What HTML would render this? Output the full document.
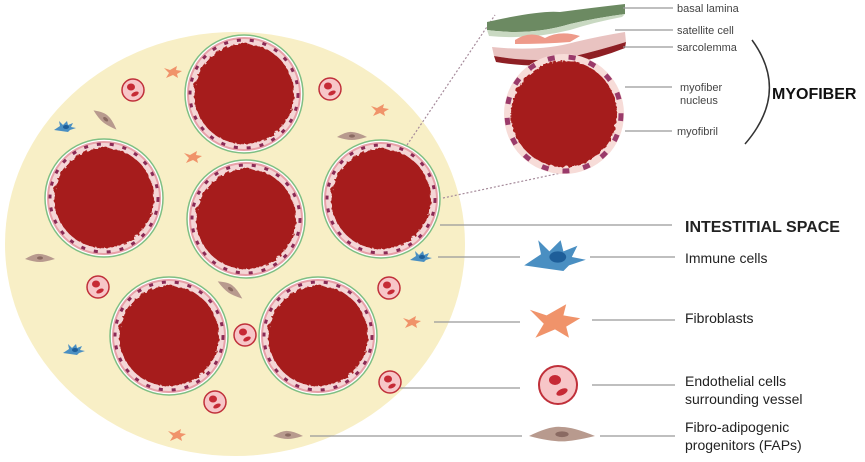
<!DOCTYPE html>
<html><head><meta charset="utf-8"><style>
html,body{margin:0;padding:0;background:#fff;}
svg{display:block;font-family:"Liberation Sans",sans-serif;}
</style></head><body>
<svg width="865" height="462" viewBox="0 0 865 462" xmlns="http://www.w3.org/2000/svg">
<defs>
<filter id="rough" x="-10%" y="-10%" width="120%" height="120%">
<feTurbulence type="fractalNoise" baseFrequency="0.25" numOctaves="2" result="n"/>
<feDisplacementMap in="SourceGraphic" in2="n" scale="5"/>
</filter>
<g id="fiber">
<circle r="59" fill="#fff" stroke="#7fbf84" stroke-width="1.5"/>
<circle r="56" fill="#f4d6d6" stroke="#e8a0a8" stroke-width="2"/>
<circle r="54" fill="none" stroke="#8a2a55" stroke-width="3" stroke-dasharray="4 9"/>
<circle r="50" fill="#a61e1e" filter="url(#rough)"/>
</g>
<g id="vessel">
<circle r="11" fill="#f7c6c8" stroke="#c0303a" stroke-width="1.5"/>
<ellipse cx="-2" cy="-3" rx="4" ry="3.5" fill="#c62a35"/>
<ellipse cx="2" cy="4" rx="4" ry="2" fill="#c62a35" transform="rotate(-25 2 4)"/>
</g>
<g id="imm">
<path d="M-11,3 L-5,-1 L-6,-6 L-2,-2 L2,-6 L3,-2 L8,-4 L6,0 L11,1 L5,3 L3,5 L-4,4 Z" fill="#4a8fc2"/>
<ellipse cx="1" cy="0" rx="3" ry="2" fill="#1e5e99"/>
</g>
<g id="fib">
<path d="M-9,-4 L-3,-2 L4,-6 L3,-2 L9,-1 L4,2 L5,6 L0,3 L-7,6 L-4,1 Z" fill="#f0936a"/>
</g>
<g id="fap">
<path d="M-15,0 Q-5,-6 0,-5 Q5,-5 15,0 Q5,3 0,3 Q-6,3 -15,0 Z" fill="#b89a8e"/>
<ellipse cx="0" cy="-1" rx="3" ry="1.6" fill="#8a6a62"/>
</g>
</defs>

<ellipse cx="235" cy="244" rx="230" ry="212" fill="#f8efc6"/>

<use href="#fiber" x="244" y="94"/>
<use href="#fiber" x="104" y="198"/>
<use href="#fiber" x="246" y="219"/>
<use href="#fiber" x="381" y="199"/>
<use href="#fiber" x="169" y="336"/>
<use href="#fiber" x="318" y="336"/>

<use href="#vessel" x="133" y="90"/>
<use href="#vessel" x="330" y="89"/>
<use href="#vessel" x="98" y="287"/>
<use href="#vessel" x="389" y="288"/>
<use href="#vessel" x="245" y="335"/>
<use href="#vessel" x="215" y="402"/>
<use href="#vessel" x="390" y="382"/>

<use href="#imm" x="65" y="127"/>
<use href="#imm" x="421" y="257"/>
<use href="#imm" x="74" y="350"/>

<use href="#fib" x="173" y="72"/>
<use href="#fib" x="380" y="110"/>
<use href="#fib" x="193" y="157"/>
<use href="#fib" x="412" y="322"/>
<use href="#fib" x="177" y="435"/>

<g transform="translate(105,120) rotate(40)"><use href="#fap"/></g>
<use href="#fap" x="352" y="137"/>
<use href="#fap" x="40" y="259"/>
<g transform="translate(230,290) rotate(35)"><use href="#fap"/></g>
<use href="#fap" x="288" y="436"/>

<line x1="407" y1="145" x2="495" y2="15" stroke="#a58a9a" stroke-width="1.2" stroke-dasharray="2 2"/>
<line x1="443" y1="198" x2="575" y2="170" stroke="#a58a9a" stroke-width="1.2" stroke-dasharray="2 2"/>

<path d="M487,22 Q540,10 560,12 Q590,8 625,4 L625,14 Q595,18 570,24 Q530,36 487,30 Z" fill="#6c8a62"/>
<path d="M487,30 Q530,36 570,24 Q595,18 625,14 L622,17 Q595,22 570,30 Q530,40 489,36 Z" fill="#c9d9c2"/>
<path d="M515,40 Q530,30 545,38 Q560,30 580,36 L570,42 Q545,44 515,44 Z" fill="#ee9a8a"/>
<path d="M492,47 Q540,52 575,42 Q600,36 625,32 L626,42 Q600,50 575,56 Q540,64 494,56 Z" fill="#e9c3c1"/>
<path d="M494,56 Q540,64 575,56 Q600,50 626,42 L625,48 Q600,58 570,64 Q530,68 496,62 Z" fill="#8e1f24"/>
<circle cx="564" cy="114" r="60" fill="#f7dcd8"/>
<circle cx="564" cy="114" r="57" fill="none" stroke="#9a3a6a" stroke-width="5" stroke-dasharray="7 14"/>
<circle cx="564" cy="114" r="53" fill="#a51c1c" filter="url(#rough)"/>

<g stroke="#999" stroke-width="1.3">
<line x1="623" y1="8" x2="673" y2="8"/>
<line x1="615" y1="30" x2="673" y2="30"/>
<line x1="623" y1="47" x2="673" y2="47"/>
<line x1="625" y1="87" x2="672" y2="87"/>
<line x1="625" y1="131" x2="672" y2="131"/>
<line x1="440" y1="225" x2="672" y2="225"/>
<line x1="438" y1="257" x2="520" y2="257"/>
<line x1="590" y1="257" x2="675" y2="257"/>
<line x1="434" y1="322" x2="520" y2="322"/>
<line x1="592" y1="320" x2="675" y2="320"/>
<line x1="400" y1="388" x2="520" y2="388"/>
<line x1="592" y1="385" x2="675" y2="385"/>
<line x1="310" y1="436" x2="522" y2="436"/>
<line x1="600" y1="436" x2="675" y2="436"/>
</g>
<path d="M752,40 Q790,92 745,144" fill="none" stroke="#333" stroke-width="1.5"/>

<g fill="#444" font-size="11">
<text x="677" y="12">basal lamina</text>
<text x="677" y="34">satellite cell</text>
<text x="677" y="51">sarcolemma</text>
<text x="680" y="91">myofiber</text>
<text x="680" y="104">nucleus</text>
<text x="677" y="135">myofibril</text>
</g>
<text x="772" y="99" font-size="16" font-weight="bold" fill="#111">MYOFIBER</text>

<g transform="translate(555,257) scale(2.8)"><use href="#imm"/></g>
<g transform="translate(555,321) scale(2.8)"><use href="#fib"/></g>
<g transform="translate(558,385)">
<circle r="19" fill="#f7c6c8" stroke="#c0303a" stroke-width="2"/>
<ellipse cx="-3" cy="-5" rx="6" ry="5" fill="#c62a35"/>
<ellipse cx="4" cy="7" rx="6" ry="3" fill="#c62a35" transform="rotate(-25 4 7)"/>
</g>
<g transform="translate(562,436) scale(2.2,1.8)"><use href="#fap"/></g>

<g fill="#222" font-size="14">
<text x="685" y="232" font-weight="bold" font-size="16">INTESTITIAL SPACE</text>
<text x="685" y="263">Immune cells</text>
<text x="685" y="323">Fibroblasts</text>
<text x="685" y="386">Endothelial cells</text>
<text x="685" y="404">surrounding vessel</text>
<text x="685" y="432">Fibro-adipogenic</text>
<text x="685" y="450">progenitors (FAPs)</text>
</g>
</svg>
</body></html>
